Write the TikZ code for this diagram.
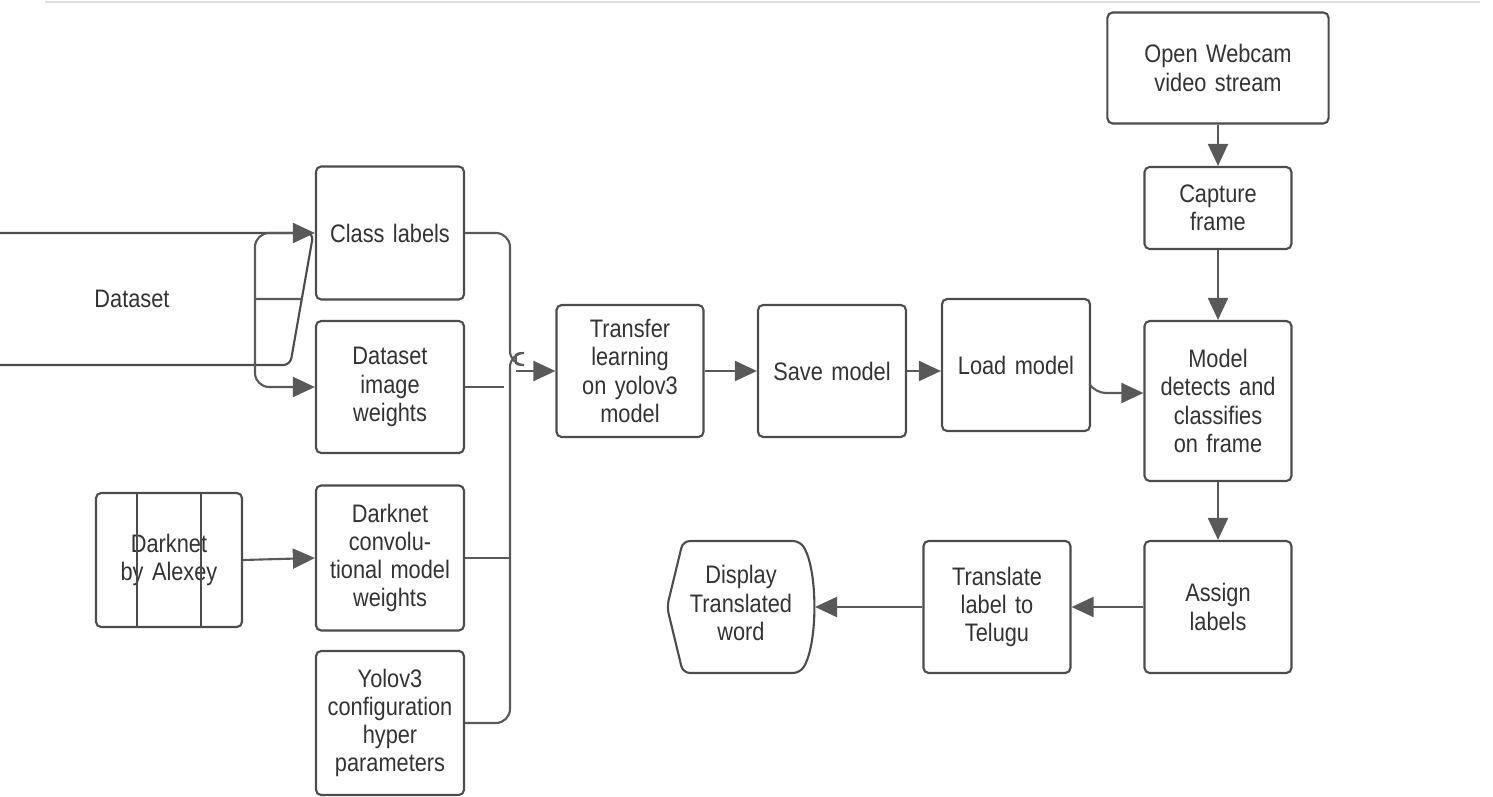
\documentclass[tikz,border=0pt]{standalone}
\usepackage{fontspec}
\setmainfont{Liberation Sans}[FakeStretch=0.86]
\usetikzlibrary{shapes.geometric, arrows.meta, positioning, calc}

\begin{document}
\begin{tikzpicture}[
		x=0.01cm, y=-0.01cm,
		font=\fontsize{7.2}{8}\selectfont,
		>={Triangle[length=2.2mm,width=2mm]}
	]
	\tikzstyle{Box} = [ %plain step box
		draw=black!70, line width=0.6pt, rounded corners=1.5pt,
		text width=1.25cm, align=center, text=black!80,
		minimum width=1.48cm, minimum height=1.32cm, inner sep=1pt
	]
	\tikzstyle{Line} = [draw=black!65, line width=0.6pt]
	\useasboundingbox (0,0) rectangle (1493,797);
	\draw[black!12] (45,2) -- (1480,2);

	% inputs
	\node (data) [draw=black!70, line width=0.6pt, trapezium, trapezium left angle=80, trapezium right angle=100,
		rounded corners=2pt, minimum width=1.35cm, minimum height=1.32cm, text=black!80] at (132,299) {Dataset};
	\node (cls) [Box, minimum height=1.33cm] at (390,233) {Class labels};
	\node (img) [Box] at (390,387) {Dataset image weights};
	\node (alexey) [Box, minimum width=1.46cm, minimum height=1.34cm] at (169,560) {Darknet by Alexey};
	\draw[black!70, line width=0.6pt] ([xshift=12]alexey.north west) -- ([xshift=12]alexey.south west)
		([xshift=-12]alexey.north east) -- ([xshift=-12]alexey.south east);
	\node (dark) [Box, minimum height=1.45cm] at (390,558) {Darknet convolutional model weights};
	\node (cfg) [Box, minimum height=1.44cm] at (390,723) {Yolov3 configuration hyper parameters};

	% pipeline
	\node (tl) [Box, minimum width=1.47cm] at (630,371) {Transfer learning on yolov3 model};
	\node (save) [Box] at (832,371) {Save model};
	\node (load) [Box] at (1016,365) {Load model};
	\node (det) [Box, minimum width=1.47cm, minimum height=1.6cm] at (1218,401) {Model detects and classifies on frame};
	\node (cap) [Box, minimum width=1.47cm, minimum height=0.82cm] at (1218,208) {Capture frame};
	\node (cam) [Box, text width=2.1cm, minimum width=2.21cm, minimum height=1.11cm] at (1218,68) {Open Webcam video stream};
	\node (asg) [Box, minimum width=1.47cm] at (1218,607) {Assign labels};
	\node (tr) [Box, minimum width=1.47cm] at (997,607) {Translate label to Telugu};
	\draw[black!70, line width=0.6pt, rounded corners=2pt] (683,541) -- (800,541) .. controls (818,570) and (818,644) .. (800,673)
		-- (683,673) -- (667,607) -- cycle;
	\node (disp) [text width=1.2cm, align=center, text=black!80] at (741,603) {Display Translated word};
	\coordinate (dispE) at (815,607);

	% connectors
	\coordinate (fork) at (255,299);
	\draw[Line] (data.east) -- (fork);
	\draw[Line, ->, rounded corners=4pt] (fork) |- (cls.west);
	\draw[Line, ->, rounded corners=4pt] (fork) |- (img.west);
	\draw[Line, ->] (alexey.east) -- (dark.west);
	\coordinate (bus) at (510,371);
	\draw[Line, rounded corners=4pt] (cls.east) -| (510,365) arc (90:-90:6) -- (510,558) |- (cfg.east);
	\draw[Line] (img.east) -- (504,387);
	\draw[Line] (dark.east) -- (510,558);
	\draw[Line, ->] (516,371) -- (tl.west);
	\draw[Line, ->] (tl.east) -- (save.west);
	\draw[Line, ->] (save.east) -- (save.east -| load.west);
	\draw[Line, ->, rounded corners=3pt] (1090,385) -- (1095,393) -- (det.west |- 0,393);
	\draw[Line, ->] (cam.south) -- (cap.north);
	\draw[Line, ->] (cap.south) -- (det.north);
	\draw[Line, ->] (det.south) -- (asg.north);
	\draw[Line, ->] (asg.west) -- (tr.east);
	\draw[Line, ->] (tr.west) -- (dispE);
\end{tikzpicture}
\end{document}
